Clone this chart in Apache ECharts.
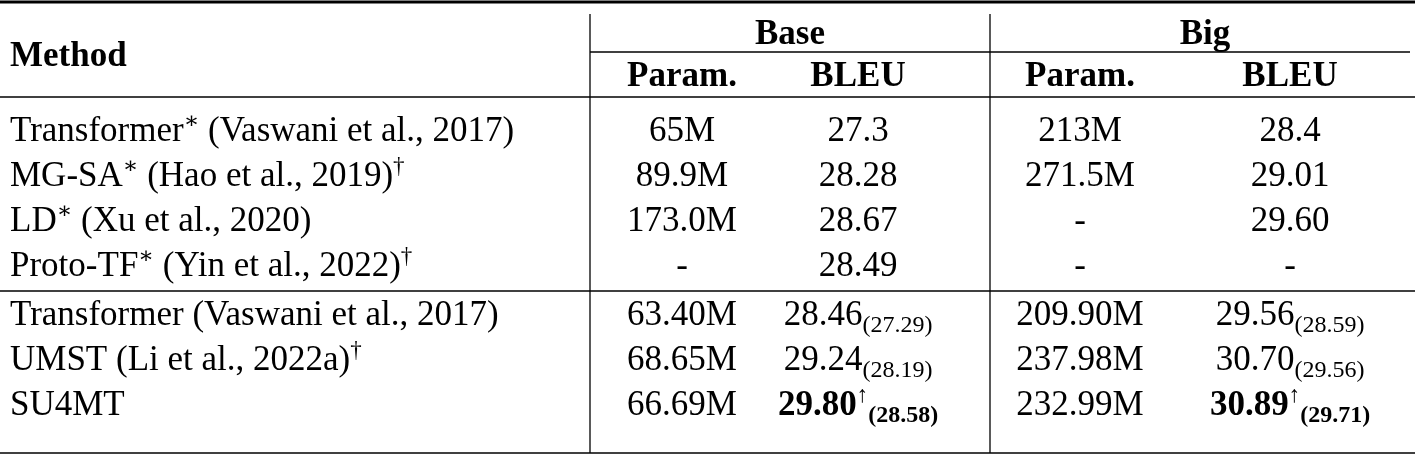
<!DOCTYPE html>
<html><head><meta charset="utf-8">
<script src="https://cdn.jsdelivr.net/npm/echarts@6/dist/echarts.min.js"></script>
<style>html,body{margin:0;padding:0;background:#fff}#c{width:1415px;height:457px}</style>
</head><body><div id="c"></div>
<script>
// table data
const methods = ['Transformer', 'MG-SA', 'LD', 'Proto-TF', 'Transformer', 'UMST', 'SU4MT'];
const starred = [true, true, true, true, false, false, false];
const citations = ['Vaswani et al., 2017', 'Hao et al., 2019', 'Xu et al., 2020', 'Yin et al., 2022', 'Vaswani et al., 2017', 'Li et al., 2022a', ''];
const daggers = [false, true, false, true, false, true, false];
const baseParam = ['65M', '89.9M', '173.0M', '-', '63.40M', '68.65M', '66.69M'];
const baseBleu = ['27.3', '28.28', '28.67', '28.49', '28.46', '29.24', '29.80'];
const baseBleuSub = ['', '', '', '', '(27.29)', '(28.19)', '(28.58)'];
const bigParam = ['213M', '271.5M', '-', '-', '209.90M', '237.98M', '232.99M'];
const bigBleu = ['28.4', '29.01', '29.60', '-', '29.56', '30.70', '30.89'];
const bigBleuSub = ['', '', '', '', '(28.59)', '(29.56)', '(29.71)'];
const bestRow = 6;

const rowY = [132, 177, 222, 267, 316, 361, 406];
const colX = [10, 682, 858, 1080, 1290];
const FONT = '"Liberation Serif", "DejaVu Serif", serif';
const BLUE = '#1a1a99';

const rich = {
  n: { fontSize: 35, fontFamily: FONT, color: '#000', lineHeight: 44 },
  b: { fontSize: 35, fontFamily: FONT, color: '#000', fontWeight: 'bold', lineHeight: 44 },
  c: { fontSize: 35, fontFamily: FONT, color: BLUE, lineHeight: 44 },
  sup: { fontSize: 23, fontFamily: FONT, color: '#000', verticalAlign: 'top', lineHeight: 44, padding: [0, 0, 16, 0] },
  sub: { fontSize: 24, fontFamily: FONT, color: '#000', verticalAlign: 'bottom', lineHeight: 44, padding: [18, 0, 0, 0] },
  subb: { fontSize: 24, fontFamily: FONT, color: '#000', fontWeight: 'bold', verticalAlign: 'bottom', lineHeight: 44, padding: [18, 0, 0, 0] }
};

function methodText(i) {
  let s = '{n|' + methods[i] + '}';
  if (starred[i]) s += '{sup|∗}';
  if (citations[i]) s += '{n| (}{c|' + citations[i] + '}{n|)}';
  if (daggers[i]) s += '{sup|†}';
  return s;
}
function bleuText(v, sub, best) {
  if (best) return '{b|' + v + '}{sup|↑}{subb|' + sub + '}';
  return '{n|' + v + '}' + (sub ? '{sub|' + sub + '}' : '');
}

const rows = methods.map((m, i) => [i]);

const chart = echarts.init(document.getElementById('c'));
const textEl = (x, y, text, align) => ({
  type: 'text', x: x, y: y,
  style: { text: text, rich: rich, align: align, verticalAlign: 'middle' }
});
const line = (x1, y1, x2, y2, w) => ({
  type: 'line', shape: { x1, y1, x2, y2 }, style: { stroke: '#000', lineWidth: w }
});

chart.setOption({
  animation: false,
  grid: { left: 0, right: 0, top: 0, bottom: 0 },
  xAxis: { type: 'value', min: 0, max: 1415, show: false },
  yAxis: { type: 'value', min: 0, max: 457, show: false, inverse: true },
  graphic: [
    line(0, 2, 1415, 2, 3),
    line(590, 52, 1410, 52, 1.3),
    line(590, 97, 1415, 97, 1.3),
    line(0, 97, 590, 97, 1.3),
    line(0, 291, 1415, 291, 1.3),
    line(0, 453, 1415, 453, 1.3),
    line(590, 14, 590, 453, 1.3),
    line(990, 14, 990, 453, 1.3),
    textEl(colX[0], 57, '{b|Method}', 'left'),
    textEl(790, 35, '{b|Base}', 'center'),
    textEl(1205, 35, '{b|Big}', 'center'),
    textEl(colX[1], 77, '{b|Param.}', 'center'),
    textEl(colX[2], 77, '{b|BLEU}', 'center'),
    textEl(colX[3], 77, '{b|Param.}', 'center'),
    textEl(colX[4], 77, '{b|BLEU}', 'center')
  ],
  series: [{
    type: 'custom',
    data: rows,
    renderItem: function (params, api) {
      const i = api.value(0);
      const y = rowY[i];
      const best = i === bestRow;
      return {
        type: 'group',
        children: [
          textEl(colX[0], y, methodText(i), 'left'),
          textEl(colX[1], y, '{n|' + baseParam[i] + '}', 'center'),
          textEl(colX[2], y, bleuText(baseBleu[i], baseBleuSub[i], best), 'center'),
          textEl(colX[3], y, '{n|' + bigParam[i] + '}', 'center'),
          textEl(colX[4], y, bleuText(bigBleu[i], bigBleuSub[i], best), 'center')
        ]
      };
    }
  }]
});
</script></body></html>
